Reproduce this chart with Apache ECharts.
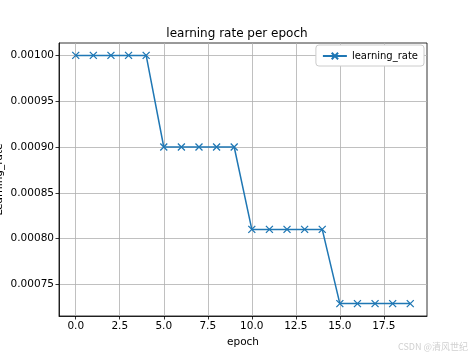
<!DOCTYPE html>
<html>
<head>
<meta charset="utf-8">
<script src="https://cdn.jsdelivr.net/npm/echarts@6/dist/echarts.min.js"></script>
<style>
html,body{margin:0;padding:0;background:#fff;}
#c{width:474px;height:355px;}
</style>
</head>
<body>
<div id="c"></div>
<script>
// ---- data ----
const epochs = [0,1,2,3,4,5,6,7,8,9,10,11,12,13,14,15,16,17,18,19];
const learningRate = [0.001,0.001,0.001,0.001,0.001,
                      0.0009,0.0009,0.0009,0.0009,0.0009,
                      0.00081,0.00081,0.00081,0.00081,0.00081,
                      0.000729,0.000729,0.000729,0.000729,0.000729];
const xTicks = [0,2.5,5,7.5,10,12.5,15,17.5];
const yTicks = [0.00075,0.0008,0.00085,0.0009,0.00095,0.001];
const titleText = 'learning rate per epoch';
const xName = 'epoch';
const yName = 'Learning_rate';
const seriesName = 'learning_rate';

// matplotlib-like 5% margins
const xr = epochs[epochs.length-1]-epochs[0];
const xMin = epochs[0]-0.05*xr, xMax = epochs[epochs.length-1]+0.05*xr;
const yLo = Math.min(...learningRate), yHi = Math.max(...learningRate);
const yMin = yLo-0.05*(yHi-yLo), yMax = yHi+0.05*(yHi-yLo);

const font = 'DejaVu Sans';
const blue = '#1f77b4';
const chart = echarts.init(document.getElementById('c'), null, {renderer:'canvas'});
chart.setOption({
  animation:false,
  backgroundColor:'#fff',
  textStyle:{fontFamily:font},
  title:{text:titleText,left:'center',top:23,textStyle:{fontFamily:font,fontSize:12,fontWeight:'normal',color:'#000'}},
  legend:{
    right:50,top:45,
    data:[seriesName],
    itemWidth:24,itemHeight:8,
    borderColor:'#cccccc',borderWidth:1,borderRadius:3,
    padding:[6,6,5,6],
    backgroundColor:'#fff',
    textStyle:{fontFamily:font,fontSize:10,color:'#000'}
  },
  grid:{left:59,right:47,top:43,bottom:39,show:true,borderColor:'#000',borderWidth:0.8,backgroundColor:'transparent',outerBoundsMode:'none',containLabel:false},
  xAxis:{
    type:'value',min:xMin,max:xMax,
    name:xName,nameLocation:'middle',nameGap:21,nameMoveOverlap:false,
    nameTextStyle:{fontFamily:font,fontSize:10.5,color:'#000'},
    axisLine:{show:true,onZero:false,lineStyle:{color:'#000',width:0.8}},
    axisTick:{show:true,length:3.5,customValues:xTicks,lineStyle:{color:'#000',width:0.8}},
    axisLabel:{customValues:xTicks,fontFamily:font,fontSize:10.5,color:'#000',margin:5,
      formatter:v=>v.toFixed(1)},
    splitLine:{show:true,customValues:xTicks,lineStyle:{color:'#b0b0b0',width:0.8}}
  },
  yAxis:{
    type:'value',min:yMin,max:yMax,
    name:yName,nameLocation:'middle',nameGap:54,nameRotate:90,nameMoveOverlap:false,
    nameTextStyle:{fontFamily:font,fontSize:10.5,color:'#000'},
    axisLine:{show:true,onZero:false,lineStyle:{color:'#000',width:0.8}},
    axisTick:{show:true,length:3.5,customValues:yTicks,lineStyle:{color:'#000',width:0.8}},
    axisLabel:{customValues:yTicks,fontFamily:font,fontSize:10.5,color:'#000',margin:5,
      formatter:v=>v.toFixed(5)},
    splitLine:{show:true,customValues:yTicks,lineStyle:{color:'#b0b0b0',width:0.8}}
  },
  graphic:[
    {type:'text',right:6,bottom:4,style:{text:'CSDN @清风世纪',font:'9px "Noto Sans CJK SC"',fill:'#d0d0d0'}}
  ],
  series:[{
    name:seriesName,type:'line',
    data:epochs.map((e,i)=>[e,learningRate[i]]),
    symbol:'path://M0,0L10,10M10,0L0,10',symbolSize:7,
    showAllSymbol:true,
    lineStyle:{color:blue,width:1.5},
    itemStyle:{color:blue,borderColor:blue,borderWidth:1.3},
    clip:false
  }]
});
</script>
</body>
</html>
